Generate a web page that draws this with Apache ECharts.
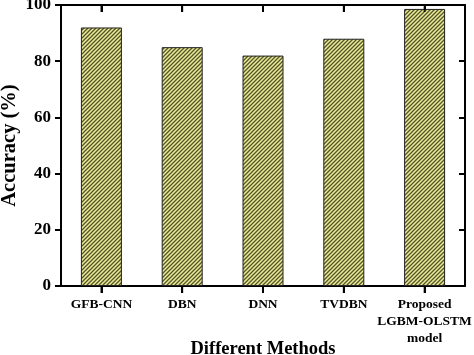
<!DOCTYPE html>
<html><head><meta charset="utf-8">
<script src="https://cdn.jsdelivr.net/npm/echarts@6/dist/echarts.min.js"></script>
<style>html,body{margin:0;padding:0;background:#fff}#c{width:474px;height:355px}</style>
</head><body><div id="c"></div>
<script>
const categories = ['GFB-CNN', 'DBN', 'DNN', 'TVDBN', 'Proposed\nLGBM-OLSTM\nmodel'];
const accuracy = [92, 85, 82, 88, 98.6];
const yTicks = [0, 20, 40, 60, 80, 100];

function makePattern() {
  const s = 4;
  const cv = document.createElement('canvas');
  cv.width = s; cv.height = s;
  const ctx = cv.getContext('2d');
  ctx.fillStyle = '#ecec98';
  ctx.fillRect(0, 0, s, s);
  ctx.strokeStyle = '#55552a';
  ctx.lineWidth = 1.3;
  ctx.beginPath();
  ctx.moveTo(-1, s + 1); ctx.lineTo(s + 1, -1);
  ctx.moveTo(-1, 1); ctx.lineTo(1, -1);
  ctx.moveTo(s - 1, s + 1); ctx.lineTo(s + 1, s - 1);
  ctx.stroke();
  return cv;
}

const yMin = yTicks[0], yMax = yTicks[yTicks.length - 1];
const font = '"Liberation Serif", "Times New Roman", serif';
const chart = echarts.init(document.getElementById('c'), null, {renderer: 'canvas'});
const tickMark = {type: 'scatter', symbol: 'rect', symbolSize: [2, 7], symbolOffset: [0, 3.5],
  silent: true, clip: false, z: 10, itemStyle: {color: '#000'}, xAxisIndex: 0, yAxisIndex: 0};
chart.setOption({
  animation: false,
  grid: {left: 61, right: 9, top: 5, bottom: 69, containLabel: false, outerBoundsMode: 'none'},
  xAxis: [{
    type: 'category', data: categories, position: 'bottom',
    axisLine: {show: true, onZero: false, lineStyle: {color: '#000', width: 2}},
    axisTick: {show: true, alignWithLabel: true, length: 7, lineStyle: {color: '#000', width: 2}},
    axisLabel: {interval: 0, color: '#000', fontFamily: font, fontWeight: 'bold', fontSize: 13.5, lineHeight: 17, margin: 10},
    name: 'Different Methods', nameLocation: 'middle', nameGap: 54, nameMoveOverlap: false,
    nameTextStyle: {color: '#000', fontFamily: font, fontWeight: 'bold', fontSize: 18.5}
  }, {
    type: 'category', data: categories, position: 'top',
    axisLine: {show: true, onZero: false, lineStyle: {color: '#000', width: 2}},
    axisTick: {show: true, alignWithLabel: true, inside: true, length: 7, lineStyle: {color: '#000', width: 2}},
    axisLabel: {show: false, interval: 0}
  }],
  yAxis: [{
    type: 'value', min: yMin, max: yMax, interval: 20, position: 'left',
    splitLine: {show: false},
    axisLine: {show: true, onZero: false, lineStyle: {color: '#000', width: 2}},
    axisTick: {show: true, length: 6, lineStyle: {color: '#000', width: 2}},
    axisLabel: {color: '#000', fontFamily: font, fontWeight: 'bold', fontSize: 17, margin: 10,
      formatter: v => yTicks.includes(v) ? String(v) : ''},
    name: 'Accuracy (%)', nameLocation: 'middle', nameGap: 41, nameMoveOverlap: false,
    nameTextStyle: {color: '#000', fontFamily: font, fontWeight: 'bold', fontSize: 20.5}
  }, {
    type: 'value', min: yMin, max: yMax, interval: 20, position: 'right',
    splitLine: {show: false},
    axisLine: {show: true, onZero: false, lineStyle: {color: '#000', width: 2}},
    axisTick: {show: true, inside: true, length: 6, lineStyle: {color: '#000', width: 2}},
    axisLabel: {show: false}
  }],
  series: [{
    type: 'bar', data: accuracy, barWidth: 41, xAxisIndex: 0, yAxisIndex: 0,
    itemStyle: {color: {image: makePattern(), repeat: 'repeat'}, borderColor: '#222', borderWidth: 1}
  },
  Object.assign({}, tickMark, {data: categories.map(c => [c, yMin])}),
  Object.assign({}, tickMark, {data: categories.map(c => [c, yMax])})
  ]
});
</script></body></html>
